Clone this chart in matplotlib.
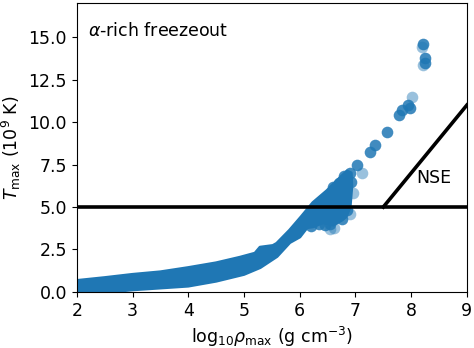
import matplotlib
matplotlib.use("Agg")
import matplotlib.pyplot as plt

# Dense band of points (outline of the densely packed region)
band_upper_x = [2.0, 2.5, 3.0, 3.5, 4.0, 4.5, 4.93, 5.2, 5.29, 5.52, 5.59, 5.82, 6.03, 6.24, 6.49, 6.72, 6.85, 6.92, 6.93, 6.9]
band_upper_y = [0.66, 0.83, 1.02, 1.17, 1.42, 1.7, 2.03, 2.27, 2.62, 2.72, 2.85, 3.62, 4.42, 5.25, 5.95, 6.7, 7.1, 7.0, 6.2, 5.0]
band_lower_x = [6.83, 6.76, 6.6, 6.42, 6.24, 6.13, 6.0, 5.82, 5.59, 5.29, 5.0, 4.5, 4.0, 3.5, 3.0, 2.65, 2.0]
band_lower_y = [4.45, 4.25, 3.95, 4.1, 3.85, 3.8, 3.25, 2.92, 2.1, 1.45, 1.05, 0.65, 0.36, 0.25, 0.14, 0.03, 0.02]

# Individual (sparse) points
dark_x = [8.21, 8.25, 8.25, 7.94, 7.83, 7.78, 7.98, 7.57, 7.35, 7.26, 7.03, 6.9, 6.8, 6.7, 6.55, 6.45, 6.35, 6.75, 6.6, 6.85, 6.2, 6.92]
dark_y = [14.6, 13.8, 13.5, 11.0, 10.7, 10.4, 10.8, 9.4, 8.65, 8.25, 7.5, 7.0, 6.8, 6.4, 4.0, 3.95, 4.0, 4.3, 6.2, 4.8, 3.9, 6.5]
light_x = [8.19, 8.21, 8.01, 7.12, 6.96, 6.55, 6.62, 6.9]
light_y = [14.4, 13.35, 11.5, 7.0, 5.8, 3.7, 3.75, 4.6]

# Reference lines
hline_x = [2.0, 9.0]
hline_y = [5.0, 5.0]
nse_x = [7.5, 9.0]
nse_y = [5.0, 11.0]

xticks = [2, 3, 4, 5, 6, 7, 8, 9]
yticks = [0.0, 2.5, 5.0, 7.5, 10.0, 12.5, 15.0]

color = "#1f77b4"
fs = 12.5

fig = plt.figure(figsize=(4.74, 3.48), dpi=100)
ax = fig.add_axes([0.162, 0.161, 0.823, 0.830])

poly_x = band_upper_x + band_lower_x
poly_y = band_upper_y + band_lower_y
ax.fill(poly_x, poly_y, facecolor=color, edgecolor=color, lw=2.5,
        joinstyle="round", zorder=2)
ax.scatter(light_x, light_y, s=70, color=color, alpha=0.45, lw=0, zorder=3)
ax.scatter(dark_x, dark_y, s=70, color=color, alpha=0.85, lw=0, zorder=3)

ax.plot(hline_x, hline_y, color="black", lw=2.6, zorder=4)
ax.plot(nse_x, nse_y, color="black", lw=2.6, zorder=4)

ax.text(8.4, 6.7, "NSE", fontsize=fs, ha="center", va="center")
ax.text(2.2, 15.35, r"$\alpha$-rich freezeout", fontsize=fs, ha="left", va="center")

ax.set_xlim(2, 9)
ax.set_ylim(0, 17)
ax.set_xticks(xticks)
ax.set_yticks(yticks)
ax.set_xticklabels([str(t) for t in xticks])
ax.set_yticklabels([f"{t:.1f}" for t in yticks])
ax.tick_params(labelsize=fs)
ax.set_xlabel(r"$\mathrm{log}_{10}\rho_{\rm max}$ (g cm$^{-3}$)", fontsize=fs)
ax.set_ylabel(r"$T_{\rm max}$ ($10^9$ K)", fontsize=fs)

fig.savefig("out.png", dpi=100)
